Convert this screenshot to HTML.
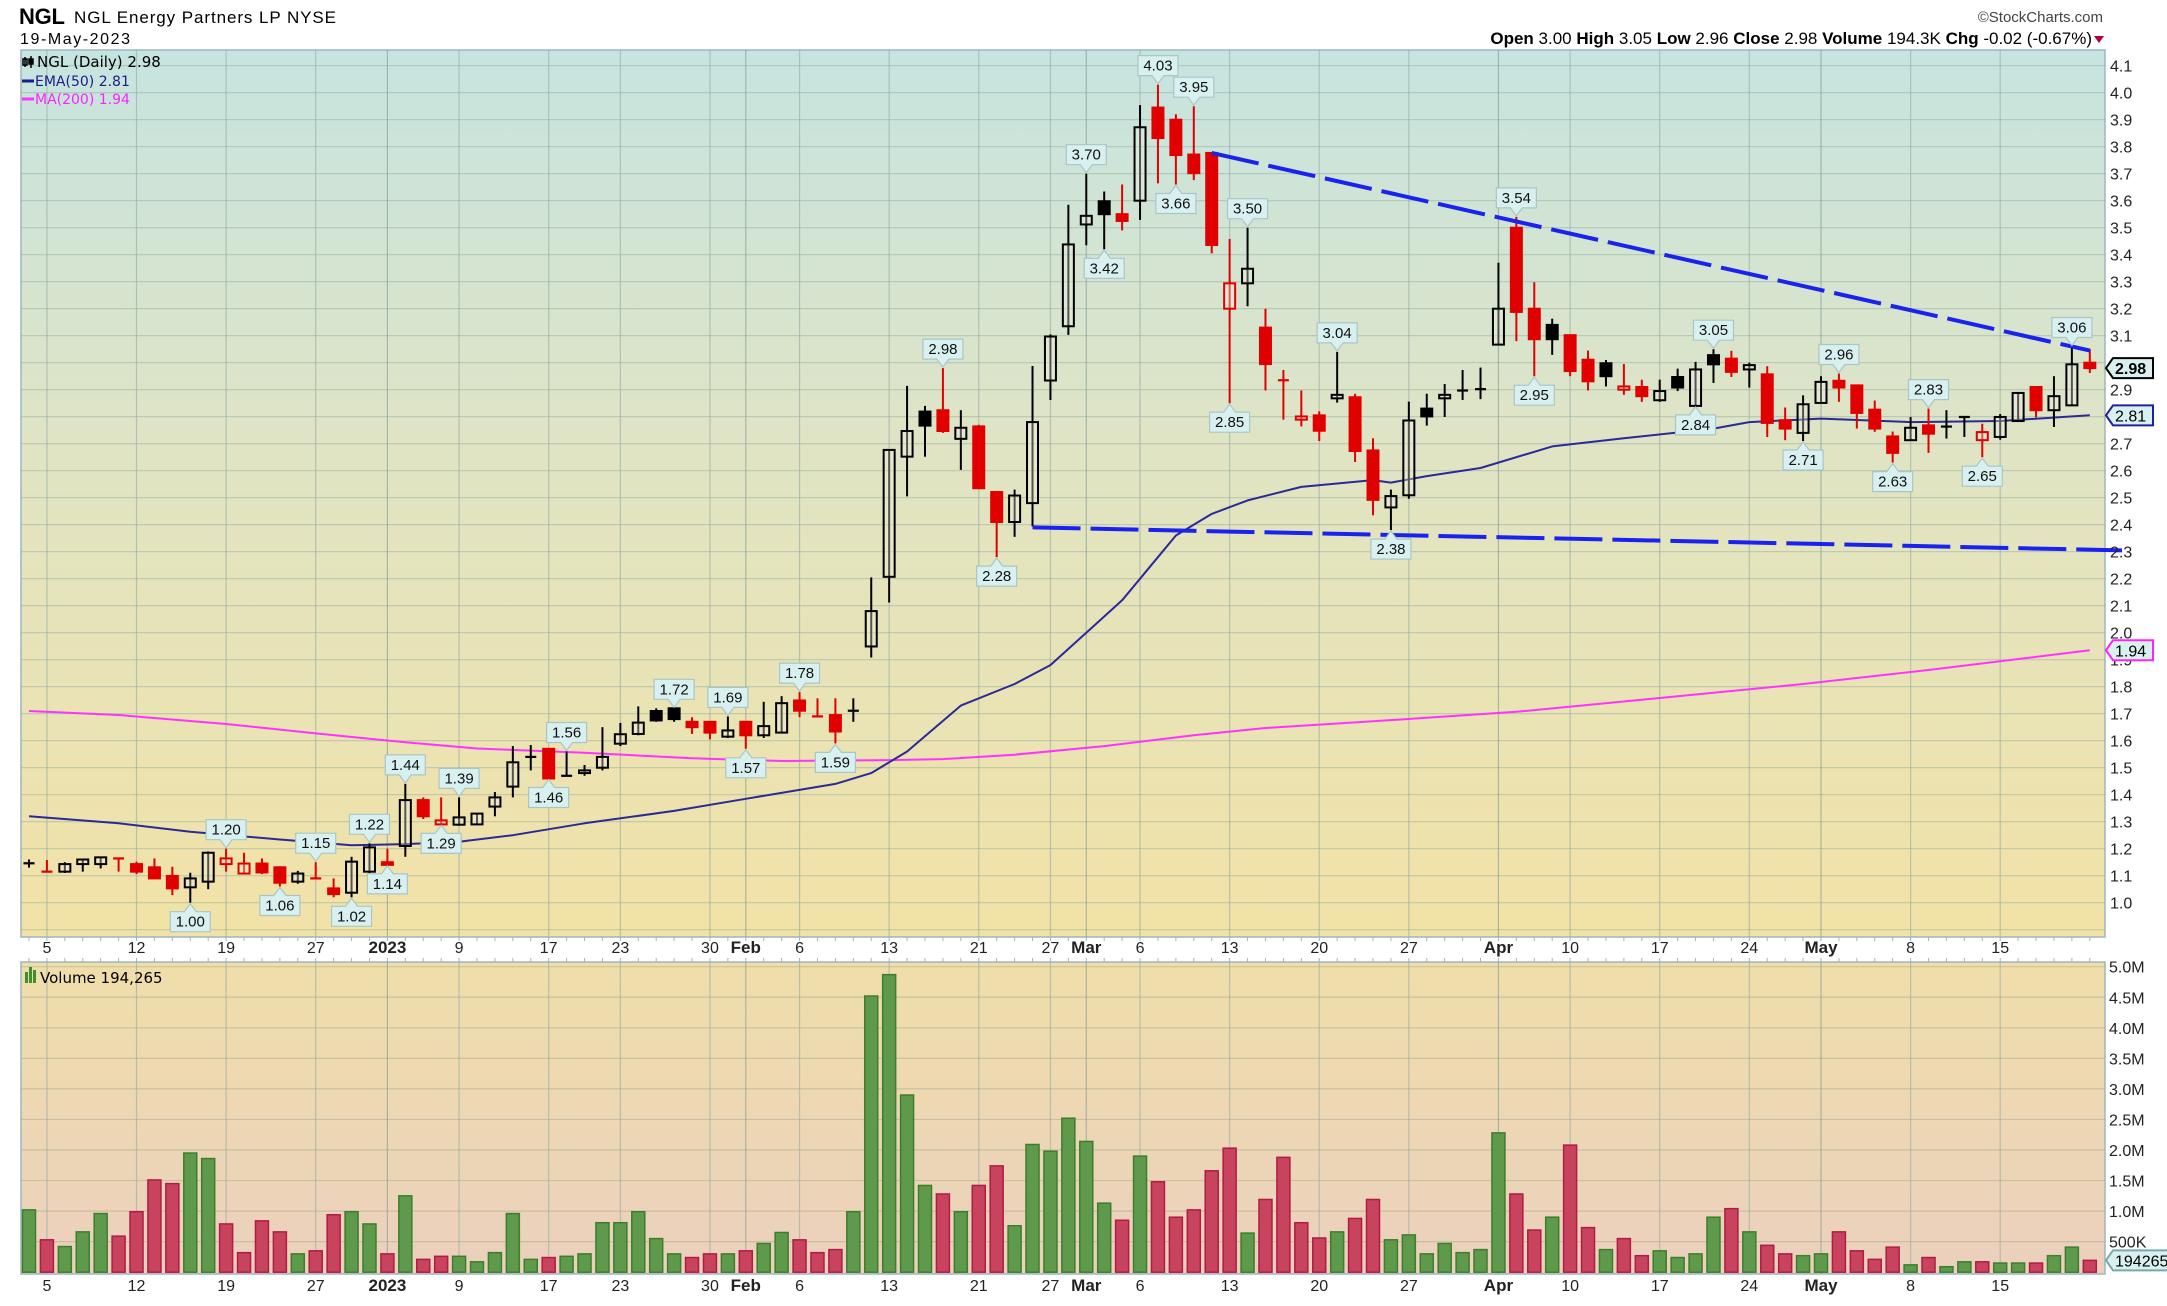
<!DOCTYPE html>
<html><head><meta charset="utf-8"><title>NGL Daily Chart</title>
<style>
html,body{margin:0;padding:0;background:#fff;}
svg{display:block;font-family:"Liberation Sans",sans-serif;}
</style></head>
<body>
<svg id="chart" width="2167" height="1306" viewBox="0 0 2167 1306" xmlns="http://www.w3.org/2000/svg">
<defs>
<linearGradient id="pg" x1="0" y1="0" x2="0" y2="1">
<stop offset="0" stop-color="#c6e4e0"/><stop offset="0.45" stop-color="#e0e4c4"/><stop offset="1" stop-color="#f2e2a6"/>
</linearGradient>
<linearGradient id="vg" x1="0" y1="0" x2="0" y2="1">
<stop offset="0" stop-color="#efdeaa"/><stop offset="1" stop-color="#ebd0bd"/>
</linearGradient>
</defs>
<g>
<text x="19" y="24" font-size="22" font-weight="bold" textLength="46">NGL</text>
<text x="74" y="23" font-size="17" textLength="262">NGL Energy Partners LP NYSE</text>
<text x="20" y="44" font-size="16" textLength="110">19-May-2023</text>
<text x="2103" y="22" font-size="15" text-anchor="end" fill="#444">©StockCharts.com</text>
<text x="2092" y="44" font-size="17" text-anchor="end"><tspan font-weight="bold">Open</tspan> 3.00 <tspan font-weight="bold">High</tspan> 3.05 <tspan font-weight="bold">Low</tspan> 2.96 <tspan font-weight="bold">Close</tspan> 2.98 <tspan font-weight="bold">Volume</tspan> 194.3K <tspan font-weight="bold">Chg</tspan> -0.02 (-0.67%)</text>
<polygon points="2094,36 2104,36 2099,43" fill="#b0003a"/>
</g>
<rect x="21" y="50" width="2084" height="887" fill="url(#pg)" stroke="#9db6bf" stroke-width="1.5"/>
<rect x="21" y="962" width="2084" height="312" fill="url(#vg)" stroke="#9db6bf" stroke-width="1.5"/>
<g id="grid"></g>
<g id="lines"></g>
<g id="vol"></g>
<g id="candles"></g>
<g id="trend"></g>
<g id="labels"></g>
<g id="axes"></g>
<g font-family="DejaVu Sans, sans-serif" font-size="15">
<g stroke="#000" stroke-width="1.5" fill="none"><line x1="25" y1="57" x2="25" y2="67"/><rect x="23" y="59" width="4" height="6"/><line x1="31" y1="56" x2="31" y2="68"/><rect x="29" y="59" width="4" height="5" fill="#000"/></g>
<text x="37" y="67">NGL (Daily) 2.98</text>
<line x1="22" y1="81" x2="34" y2="81" stroke="#1c1c8c" stroke-width="3"/>
<text x="35" y="86" fill="#1c1c8c" font-size="14">EMA(50) 2.81</text>
<line x1="22" y1="99" x2="34" y2="99" stroke="#ff33ff" stroke-width="3"/>
<text x="35" y="104" fill="#ff22ff" font-size="14">MA(200) 1.94</text>
</g>
<g font-family="DejaVu Sans, sans-serif" font-size="15">
<g fill="#3f8f2f"><rect x="25" y="972" width="3" height="11"/><rect x="29" y="967" width="3" height="16"/><rect x="33" y="970" width="3" height="13"/></g>
<text x="40" y="983">Volume 194,265</text>
</g>
</svg>
<script>
const opens=[1.146,1.115,1.115,1.143,1.143,1.164,1.143,1.131,1.099,1.057,1.078,1.143,1.108,1.145,1.131,1.078,1.09,1.053,1.037,1.115,1.15,1.21,1.38,1.29,1.289,1.29,1.356,1.43,1.54,1.57,1.47,1.48,1.50,1.589,1.625,1.71,1.72,1.67,1.67,1.615,1.67,1.62,1.63,1.749,1.69,1.695,1.711,1.949,2.207,2.652,2.819,2.824,2.718,2.764,2.521,2.41,2.48,2.934,3.135,3.512,3.598,3.55,3.60,3.945,3.90,3.771,3.777,3.20,3.294,3.13,2.935,2.789,2.805,2.868,2.872,2.675,2.464,2.509,2.83,2.868,2.897,2.902,3.067,3.50,3.20,3.14,3.102,3.011,2.998,2.90,2.91,2.861,2.947,2.84,3.028,3.015,2.975,2.957,2.787,2.74,2.851,2.933,2.916,2.826,2.727,2.713,2.768,2.762,2.799,2.713,2.725,2.784,2.91,2.824,2.842,3.00];
const highs=[1.16,1.158,1.15,1.162,1.168,1.164,1.152,1.164,1.133,1.111,1.19,1.20,1.185,1.164,1.135,1.118,1.15,1.09,1.17,1.22,1.20,1.44,1.39,1.39,1.39,1.33,1.41,1.58,1.584,1.57,1.56,1.51,1.65,1.666,1.727,1.72,1.72,1.687,1.67,1.69,1.67,1.744,1.765,1.78,1.757,1.757,1.757,2.205,2.68,2.914,2.84,2.98,2.824,2.77,2.521,2.53,2.988,3.105,3.585,3.70,3.634,3.66,3.954,4.03,3.92,3.95,3.777,3.458,3.50,3.20,2.973,2.897,2.82,3.04,2.885,2.72,2.53,2.856,2.885,2.921,2.973,2.982,3.37,3.54,3.298,3.163,3.102,3.045,3.01,2.995,2.937,2.937,2.978,3.003,3.05,3.044,3.00,2.987,2.834,2.879,2.95,2.96,2.916,2.86,2.745,2.799,2.83,2.824,2.799,2.774,2.81,2.89,2.91,2.95,3.06,3.05];
const lows=[1.13,1.115,1.11,1.115,1.127,1.115,1.106,1.09,1.028,1.00,1.05,1.115,1.108,1.106,1.06,1.07,1.09,1.02,1.02,1.11,1.14,1.17,1.31,1.29,1.285,1.29,1.32,1.39,1.49,1.46,1.47,1.47,1.49,1.58,1.62,1.67,1.67,1.625,1.605,1.61,1.57,1.61,1.63,1.687,1.69,1.59,1.67,1.908,2.112,2.505,2.652,2.74,2.603,2.535,2.28,2.355,2.394,2.862,3.103,3.435,3.42,3.49,3.529,3.664,3.66,3.676,3.405,2.85,3.209,2.897,2.789,2.764,2.71,2.852,2.632,2.435,2.38,2.496,2.767,2.799,2.862,2.865,3.067,3.08,2.95,3.029,2.95,2.897,2.912,2.881,2.855,2.855,2.895,2.84,2.925,2.947,2.908,2.725,2.713,2.71,2.85,2.855,2.756,2.744,2.63,2.713,2.666,2.719,2.725,2.65,2.715,2.784,2.797,2.762,2.842,2.962];
const closes=[1.146,1.115,1.143,1.160,1.168,1.164,1.115,1.09,1.053,1.09,1.185,1.164,1.145,1.112,1.074,1.108,1.09,1.032,1.152,1.205,1.14,1.38,1.32,1.305,1.316,1.33,1.39,1.52,1.54,1.46,1.47,1.49,1.54,1.624,1.667,1.675,1.68,1.65,1.63,1.638,1.62,1.654,1.739,1.711,1.69,1.634,1.711,2.08,2.677,2.747,2.767,2.747,2.759,2.535,2.41,2.508,2.78,3.097,3.438,3.544,3.55,3.525,3.872,3.832,3.769,3.702,3.436,3.294,3.348,2.995,2.935,2.801,2.748,2.881,2.673,2.492,2.506,2.786,2.801,2.881,2.897,2.902,3.20,3.188,3.087,3.087,2.969,2.931,2.95,2.912,2.876,2.895,2.908,2.975,2.994,2.966,2.991,2.777,2.756,2.846,2.929,2.908,2.814,2.756,2.666,2.759,2.737,2.765,2.799,2.743,2.799,2.888,2.824,2.876,2.994,2.98];
const volumes=[1.02,0.53,0.42,0.66,0.96,0.59,0.99,1.51,1.45,1.95,1.86,0.79,0.32,0.84,0.66,0.30,0.35,0.94,0.99,0.79,0.30,1.25,0.21,0.26,0.26,0.17,0.32,0.96,0.21,0.24,0.26,0.30,0.81,0.81,0.99,0.55,0.30,0.24,0.30,0.30,0.35,0.47,0.65,0.53,0.32,0.37,0.99,4.52,4.87,2.90,1.42,1.28,0.99,1.42,1.74,0.76,2.09,1.98,2.52,2.14,1.13,0.85,1.90,1.48,0.90,1.02,1.66,2.03,0.64,1.19,1.88,0.81,0.56,0.66,0.88,1.19,0.53,0.61,0.30,0.47,0.32,0.37,2.28,1.28,0.69,0.90,2.08,0.73,0.37,0.55,0.27,0.35,0.24,0.30,0.90,1.04,0.66,0.44,0.30,0.27,0.30,0.66,0.35,0.21,0.41,0.12,0.24,0.09,0.17,0.17,0.15,0.15,0.15,0.27,0.41,0.194];
const emaIdx=[0,5,9,14,18,21,24,27,31,36,40,45,47,49,52,55,57,59,61,64,66,68,71,75,76,78,81,85,89,94,96,100,105,110,115];
const emaVal=[1.32,1.294,1.263,1.234,1.213,1.217,1.226,1.25,1.294,1.34,1.385,1.44,1.48,1.56,1.73,1.81,1.88,2.0,2.12,2.36,2.44,2.49,2.54,2.565,2.556,2.58,2.61,2.69,2.72,2.756,2.78,2.793,2.78,2.784,2.805];
const maIdx=[0,5,11,16,21,25,31,37,42,48,51,55,60,65,69,75,83,91,99,106,115];
const maVal=[1.71,1.695,1.662,1.627,1.594,1.571,1.555,1.535,1.525,1.528,1.532,1.548,1.58,1.62,1.647,1.672,1.707,1.758,1.81,1.862,1.935];
const trendUpper=[[66,3.777],[115,3.045]];
const trendLower=[[56,2.39],[116.8,2.305]];
const highLabelIdx=[11,16,19,21,24,30,36,39,43,51,59,63,65,68,73,83,94,101,106,114];
const highLabelTxt=["1.20","1.15","1.22","1.44","1.39","1.56","1.72","1.69","1.78","2.98","3.70","4.03","3.95","3.50","3.04","3.54","3.05","2.96","2.83","3.06"];
const lowLabelIdx=[9,14,18,20,23,29,40,45,54,60,64,67,76,84,93,99,104,109];
const lowLabelTxt=["1.00","1.06","1.02","1.14","1.29","1.46","1.57","1.59","2.28","3.42","3.66","2.85","2.38","2.95","2.84","2.71","2.63","2.65"];
const dateTickIdx=[1,6,11,16,20,24,29,33,38,40,43,48,53,57,59,62,67,72,77,82,86,91,96,100,105,110];
const dateTickTxt=["5","12","19","27","2023","9","17","23","30","Feb","6","13","21","27","Mar","6","13","20","27","Apr","10","17","24","May","8","15"];
const dateTickBold=[0,0,0,0,1,0,0,0,0,1,0,0,0,0,1,0,0,0,0,1,0,0,0,1,0,0];
const priceTicks=[1.0,1.1,1.2,1.3,1.4,1.5,1.6,1.7,1.8,1.9,2.0,2.1,2.2,2.3,2.4,2.5,2.6,2.7,2.8,2.9,3.0,3.1,3.2,3.3,3.4,3.5,3.6,3.7,3.8,3.9,4.0,4.1];
const volTicks=[0.5,1.0,1.5,2.0,2.5,3.0,3.5,4.0,4.5,5.0];
const volTickTxt=["500K","1.0M","1.5M","2.0M","2.5M","3.0M","3.5M","4.0M","4.5M","5.0M"];
const lastClose="2.98", lastEma="2.81", lastMa="1.94", lastVol="194265";

const NS="http://www.w3.org/2000/svg";
const X0=29, DX=17.92, PL=21, PR=2105;
function xOf(i){return X0+i*DX;}
function yP(p){return 281.7-(p-3.3)*270;}
function yV(v){return 1272.2-v*61.1;}
function mk(tag,attrs,parent){const e=document.createElementNS(NS,tag);for(const k in attrs)e.setAttribute(k,attrs[k]);parent.appendChild(e);return e;}

const grid=document.getElementById('grid');
priceTicks.concat([0.9]).forEach(p=>{const l=mk('line',{x1:PL,x2:PR,y1:yP(p),y2:yP(p),stroke:'#8aa59a','stroke-opacity':0.45,'stroke-width':1.2},grid);

});
volTicks.forEach(v=>{const l=mk('line',{x1:PL,x2:PR,y1:yV(v),y2:yV(v),stroke:'#a8a890','stroke-opacity':0.5,'stroke-width':1.2},grid);

});
dateTickIdx.forEach((i,k)=>{const x=xOf(i);const c=dateTickBold[k]?'#7e9a92':'#94aaa2';
const a=mk('line',{x1:x,x2:x,y1:50,y2:937,stroke:c,'stroke-opacity':0.6,'stroke-width':1.2},grid);


const b=mk('line',{x1:x,x2:x,y1:962,y2:1274,stroke:c,'stroke-opacity':0.6,'stroke-width':1.2},grid);

});

const lines=document.getElementById('lines');
function poly(idx,val,color,w,name){const pts=idx.map((i,k)=>xOf(i).toFixed(1)+','+yP(val[k]).toFixed(1)).join(' ');
const pl=mk('polyline',{points:pts,fill:'none',stroke:color,'stroke-width':w,'stroke-linejoin':'round'},lines);

}
poly(maIdx,maVal,'#ff33ff',2,'ma200-line');
poly(emaIdx,emaVal,'#2a2a96',2,'ema50-line');

const vol=document.getElementById('vol');
const cg=document.getElementById('candles');
const W=11;
closes.forEach((c,i)=>{
  const o=opens[i],h=highs[i],l=lows[i];
  const down=i>0 && c<closes[i-1];
  const col=down?'#e00000':'#000000';
  const x=xOf(i);
  const g=mk('g',{},cg);
  
  
  mk('line',{x1:x,x2:x,y1:yP(h),y2:yP(l),stroke:col,'stroke-width':2},g);
  const top=yP(Math.max(o,c)),bot=yP(Math.min(o,c));
  if(bot-top<1.5){mk('line',{x1:x-W/2,x2:x+W/2,y1:(top+bot)/2,y2:(top+bot)/2,stroke:col,'stroke-width':2.2},g);}
  else{const filled=c<o;mk('rect',{x:x-W/2,y:top,width:W,height:bot-top,fill:filled?col:'#f4f2e4','fill-opacity':filled?1:0.35,stroke:col,'stroke-width':2},g);}
  const vb=mk('rect',{x:x-6.5,y:yV(volumes[i]),width:13,height:yV(0)-yV(volumes[i]),fill:down?'#c8435e':'#5f9a4c',stroke:down?'#b01c44':'#3c7e2c','stroke-width':1.5},vol);
  
  
});

const tg=document.getElementById('trend');
[trendUpper,trendLower].forEach((t,k)=>{const ln=mk('line',{x1:xOf(t[0][0]),y1:yP(t[0][1]),x2:xOf(t[1][0]),y2:yP(t[1][1]),stroke:'#1a22ee','stroke-width':4,'stroke-dasharray':'48 10'},tg);

});

const lg=document.getElementById('labels');
function tag(x,yTip,txt,up){
  const g=mk('g',{},lg);
  
  
  const bw=40,bh=20,ph=8;
  let by,pts;
  if(up){by=yTip-ph-bh;pts=[[x-bw/2,by],[x+bw/2,by],[x+bw/2,by+bh],[x+6,by+bh],[x,yTip],[x-6,by+bh],[x-bw/2,by+bh]];}
  else{by=yTip+ph;pts=[[x-bw/2,by],[x-6,by],[x,yTip],[x+6,by],[x+bw/2,by],[x+bw/2,by+bh],[x-bw/2,by+bh]];}
  mk('polygon',{points:pts.map(p=>p.join(',')).join(' '),fill:'#d8f1f0',stroke:'#a9c6c6','stroke-width':1.2},g);
  const t=mk('text',{x:x,y:by+15,'font-size':15,'text-anchor':'middle',fill:'#111'},g);t.textContent=txt;
}
highLabelIdx.forEach((i,k)=>tag(xOf(i),yP(highs[i])-1,highLabelTxt[k],true));
lowLabelIdx.forEach((i,k)=>tag(xOf(i),yP(lows[i])+1,lowLabelTxt[k],false));

const ax=document.getElementById('axes');
priceTicks.forEach(p=>{const t=mk('text',{x:2110,y:yP(p)+6,'font-size':16,fill:'#222'},ax);t.textContent=p.toFixed(1);

});
volTickTxt.forEach((s,k)=>{const t=mk('text',{x:2109,y:yV(volTicks[k])+6,'font-size':16,fill:'#222'},ax);t.textContent=s;

});
for(let i=0;i<116;i++){const x=xOf(i);mk('line',{x1:x,x2:x,y1:937,y2:941,stroke:'#9db6bf','stroke-width':1},ax);mk('line',{x1:x,x2:x,y1:958,y2:962,stroke:'#9db6bf','stroke-width':1},ax);}
[953,1291].forEach(yy=>{dateTickIdx.forEach((i,k)=>{const t=mk('text',{x:xOf(i),y:yy,'font-size':dateTickBold[k]?17:16,'font-weight':dateTickBold[k]?'bold':'normal','text-anchor':'middle',fill:'#222'},ax);t.textContent=dateTickTxt[k];

});});
function rlabel(val,y,stroke,bold,name,wide){
  const g=mk('g',{},ax);
  
  
  const w=wide||40;
  mk('polygon',{points:[[2106,y],[2113,y-10],[2113+w,y-10],[2113+w,y+10],[2113,y+10]].map(p=>p.join(',')).join(' '),fill:'#d8f1f0',stroke:stroke,'stroke-width':2},g);
  const t=mk('text',{x:2115,y:y+6,'font-size':16,'font-weight':bold?'bold':'normal',fill:'#000'},g);t.textContent=val;
}
rlabel(lastClose,yP(2.98),'#000',true,'last-close-marker');
rlabel(lastEma,yP(2.805),'#2020a0',false,'ema-value-marker');
rlabel(lastMa,yP(1.935),'#ff22ff',false,'ma-value-marker');
rlabel(lastVol,yV(0.194),'#77aaaa',false,'volume-value-marker',56);
</script>
</body></html>
